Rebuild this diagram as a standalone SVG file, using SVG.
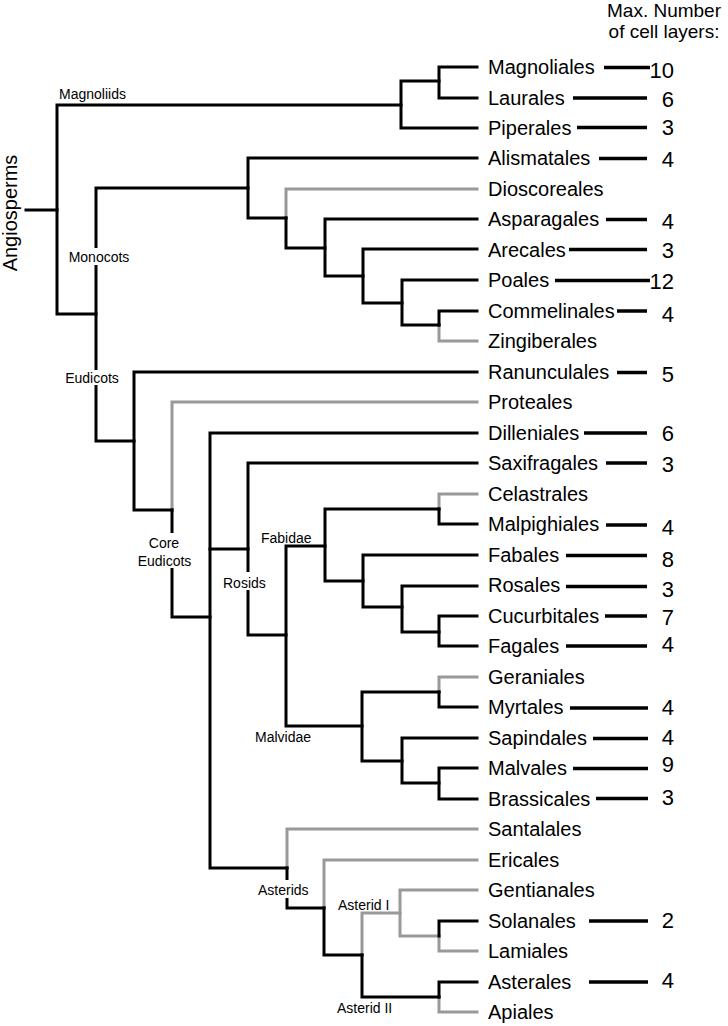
<svg xmlns="http://www.w3.org/2000/svg" width="728" height="1026" viewBox="0 0 728 1026">
<style>
.t{font-family:"Liberation Sans",Arial,sans-serif;fill:#000}
.tx{font-size:20px}
.hd{font-size:19px}
.sm{font-size:14px}
.num{font-size:22px;text-anchor:end}
.b{fill:none;stroke:#000;stroke-width:3;stroke-linecap:square;stroke-linejoin:miter}
.g{fill:none;stroke:#999;stroke-width:3;stroke-linecap:square;stroke-linejoin:miter}
.d{stroke:#000;stroke-width:3.5}
.bg{fill:#fff}
</style>
<rect width="728" height="1026" fill="#fff"/>
<g id="connectors">
<g id="gray">
<path class="g" d="M477 189 H286 V218"/>
<path class="g" d="M439 325 V341 H477"/>
<path class="g" d="M477 402 H172 V510"/>
<path class="g" d="M477 494 H439 V509"/>
<path class="g" d="M477 677 H439 V692"/>
<path class="g" d="M477 829 H287 V868"/>
<path class="g" d="M477 860 H324 V908"/>
<path class="g" d="M400 913 H362 V955"/>
<path class="g" d="M477 890 H400 V936 H439"/>
<path class="g" d="M439 936 V951 H477"/>
<path class="g" d="M439 997 V1012 H477"/>
</g>
<g id="black">
<path class="b" d="M26 210 H57"/>
<path class="b" d="M401 105 H57 V314 H96"/>
<path class="b" d="M477 67 H439 V98 H477"/>
<path class="b" d="M439 81 H401 V128 H477"/>
<path class="b" d="M248 188 H96 V441 H134"/>
<path class="b" d="M477 158 H248 V218 H286"/>
<path class="b" d="M286 218 V248 H325"/>
<path class="b" d="M477 219 H325 V276 H363"/>
<path class="b" d="M477 249 H363 V303 H402"/>
<path class="b" d="M477 280 H402 V325 H439"/>
<path class="b" d="M477 311 H439 V325"/>
<path class="b" d="M477 372 H134 V510 H172"/>
<path class="b" d="M172 510 V617 H210"/>
<path class="b" d="M477 433 H210 V868 H287"/>
<path class="b" d="M210 549 H248"/>
<path class="b" d="M477 463 H248 V635 H286"/>
<path class="b" d="M325 546 H286 V726 H362"/>
<path class="b" d="M439 509 H325 V581 H363"/>
<path class="b" d="M439 509 V524 H477"/>
<path class="b" d="M477 555 H363 V607 H402"/>
<path class="b" d="M477 586 H402 V632 H439"/>
<path class="b" d="M477 616 H439 V646 H477"/>
<path class="b" d="M439 692 H362 V761 H402"/>
<path class="b" d="M439 692 V707 H477"/>
<path class="b" d="M477 738 H402 V783 H439"/>
<path class="b" d="M477 768 H439 V799 H477"/>
<path class="b" d="M287 868 V908 H324"/>
<path class="b" d="M324 908 V955 H362"/>
<path class="b" d="M362 955 V997 H439"/>
<path class="b" d="M477 921 H439 V936"/>
<path class="b" d="M477 982 H439 V997"/>
</g>
</g>
<g id="clade-labels">
<g id="root-label"><text class="t tx" x="17" y="213" text-anchor="middle" transform="rotate(-90 17 213)">Angiosperms</text></g>
<g id="magnoliids"><text class="t sm" x="59" y="99">Magnoliids</text></g>
<g id="monocots"><rect class="bg" x="66" y="248" width="66" height="17"/><text class="t sm" x="99" y="262" text-anchor="middle">Monocots</text></g>
<g id="eudicots"><rect class="bg" x="63" y="370" width="58" height="15"/><text class="t sm" x="92" y="383" text-anchor="middle">Eudicots</text></g>
<g id="core-eudicots"><rect class="bg" x="135" y="533" width="59" height="35"/><text class="t sm" x="164" y="548" text-anchor="middle">Core</text><text class="t sm" x="164.5" y="566" text-anchor="middle">Eudicots</text></g>
<g id="rosids"><rect class="bg" x="221" y="572" width="47" height="18"/><text class="t sm" x="223" y="588">Rosids</text></g>
<g id="fabidae"><text class="t sm" x="261" y="543">Fabidae</text></g>
<g id="malvidae"><text class="t sm" x="255" y="742">Malvidae</text></g>
<g id="asterids"><rect class="bg" x="256" y="880" width="56" height="18"/><text class="t sm" x="258" y="895">Asterids</text></g>
<g id="asterid-i"><text class="t sm" x="338" y="910">Asterid I</text></g>
<g id="asterid-ii"><text class="t sm" x="337" y="1013">Asterid II</text></g>
</g>
<g id="header"><text class="t hd" x="664" y="17" text-anchor="middle">Max. Number</text><text class="t hd" x="664" y="38" text-anchor="middle">of cell layers:</text></g>
<g id="leaves">
<g id="magnoliales"><text class="t tx" x="488" y="74">Magnoliales</text><line class="d" x1="604" y1="67.5" x2="650" y2="67.5"/><text class="t num" x="674" y="78">10</text></g>
<g id="laurales"><text class="t tx" x="488" y="105">Laurales</text><line class="d" x1="573" y1="98" x2="647" y2="98"/><text class="t num" x="674" y="107">6</text></g>
<g id="piperales"><text class="t tx" x="488" y="135">Piperales</text><line class="d" x1="577" y1="127.5" x2="647" y2="127.5"/><text class="t num" x="674" y="135">3</text></g>
<g id="alismatales"><text class="t tx" x="488" y="165">Alismatales</text><line class="d" x1="599" y1="158.5" x2="647" y2="158.5"/><text class="t num" x="674" y="167">4</text></g>
<g id="dioscoreales"><text class="t tx" x="488" y="196">Dioscoreales</text></g>
<g id="asparagales"><text class="t tx" x="488" y="226">Asparagales</text><line class="d" x1="606" y1="219.5" x2="647" y2="219.5"/><text class="t num" x="674" y="229">4</text></g>
<g id="arecales"><text class="t tx" x="488" y="257">Arecales</text><line class="d" x1="569" y1="249.5" x2="647" y2="249.5"/><text class="t num" x="674" y="258">3</text></g>
<g id="poales"><text class="t tx" x="488" y="287">Poales</text><line class="d" x1="555" y1="280.5" x2="650" y2="280.5"/><text class="t num" x="674" y="289">12</text></g>
<g id="commelinales"><text class="t tx" x="488" y="318">Commelinales</text><line class="d" x1="617" y1="311" x2="647" y2="311"/><text class="t num" x="674" y="322">4</text></g>
<g id="zingiberales"><text class="t tx" x="488" y="348">Zingiberales</text></g>
<g id="ranunculales"><text class="t tx" x="488" y="379">Ranunculales</text><line class="d" x1="617" y1="372.5" x2="647" y2="372.5"/><text class="t num" x="674" y="382">5</text></g>
<g id="proteales"><text class="t tx" x="488" y="409">Proteales</text></g>
<g id="dilleniales"><text class="t tx" x="488" y="440">Dilleniales</text><line class="d" x1="584" y1="433" x2="647" y2="433"/><text class="t num" x="674" y="441">6</text></g>
<g id="saxifragales"><text class="t tx" x="488" y="470">Saxifragales</text><line class="d" x1="606" y1="463" x2="647" y2="463"/><text class="t num" x="674" y="472">3</text></g>
<g id="celastrales"><text class="t tx" x="488" y="501">Celastrales</text></g>
<g id="malpighiales"><text class="t tx" x="488" y="531">Malpighiales</text><line class="d" x1="606" y1="525" x2="647" y2="525"/><text class="t num" x="674" y="535">4</text></g>
<g id="fabales"><text class="t tx" x="488" y="562">Fabales</text><line class="d" x1="566" y1="555.5" x2="647" y2="555.5"/><text class="t num" x="674" y="567">8</text></g>
<g id="rosales"><text class="t tx" x="488" y="592">Rosales</text><line class="d" x1="566" y1="586.5" x2="647" y2="586.5"/><text class="t num" x="674" y="597">3</text></g>
<g id="cucurbitales"><text class="t tx" x="488" y="623">Cucurbitales</text><line class="d" x1="605" y1="616" x2="647" y2="616"/><text class="t num" x="674" y="625">7</text></g>
<g id="fagales"><text class="t tx" x="488" y="653">Fagales</text><line class="d" x1="566" y1="646" x2="647" y2="646"/><text class="t num" x="674" y="652">4</text></g>
<g id="geraniales"><text class="t tx" x="488" y="684">Geraniales</text></g>
<g id="myrtales"><text class="t tx" x="488" y="714">Myrtales</text><line class="d" x1="570" y1="708" x2="648" y2="708"/><text class="t num" x="674" y="715">4</text></g>
<g id="sapindales"><text class="t tx" x="488" y="745">Sapindales</text><line class="d" x1="593" y1="738.5" x2="648" y2="738.5"/><text class="t num" x="674" y="745">4</text></g>
<g id="malvales"><text class="t tx" x="488" y="775">Malvales</text><line class="d" x1="573" y1="768.5" x2="648" y2="768.5"/><text class="t num" x="674" y="772">9</text></g>
<g id="brassicales"><text class="t tx" x="488" y="806">Brassicales</text><line class="d" x1="596" y1="798.5" x2="648" y2="798.5"/><text class="t num" x="674" y="805">3</text></g>
<g id="santalales"><text class="t tx" x="488" y="836">Santalales</text></g>
<g id="ericales"><text class="t tx" x="488" y="867">Ericales</text></g>
<g id="gentianales"><text class="t tx" x="488" y="897">Gentianales</text></g>
<g id="solanales"><text class="t tx" x="488" y="928">Solanales</text><line class="d" x1="589" y1="921" x2="648" y2="921"/><text class="t num" x="674" y="928">2</text></g>
<g id="lamiales"><text class="t tx" x="488" y="958">Lamiales</text></g>
<g id="asterales"><text class="t tx" x="488" y="989">Asterales</text><line class="d" x1="589" y1="982" x2="648" y2="982"/><text class="t num" x="674" y="988">4</text></g>
<g id="apiales"><text class="t tx" x="488" y="1019">Apiales</text></g>
</g>
</svg>
